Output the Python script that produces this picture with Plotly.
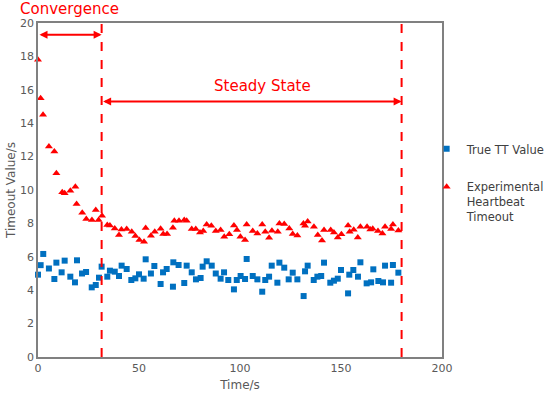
import plotly.graph_objects as go

# ---- data ----
exp_time = [0, 1.3, 2.5, 5.4, 8.1, 9.1, 12.0, 13.2, 16.0, 18.5, 19.1, 21.9, 23.9, 26.7, 28.6, 30.0,
            31.7, 34.3, 35.6, 38.0, 40.1, 41.3, 43.9, 46.4, 48.2, 50.2, 52.5, 53.3, 55.9, 57.8, 60.7,
            62.0, 63.9, 66.8, 67.5, 69.8, 72.4, 73.6, 76.1, 78.1, 80.2, 81.8, 83.5, 85.8, 88.0, 90.4,
            92.2, 94.7, 97.0, 98.5, 100.2, 102.5, 103.3, 106.3, 108.6, 111.0, 112.5, 114.4, 115.8,
            118.7, 119.5, 121.9, 124.4, 126.1, 128.4, 131.4, 132.2, 133.5, 136.6, 138.5, 140.6, 141.6,
            144.9, 146.5, 148.4, 150.2, 153.5, 154.3, 156.3, 158.3, 159.6, 162.9, 164.5, 165.7, 168.3,
            170.5, 171.8, 174.8, 175.7, 178.4]
exp_timeout = [17.8, 15.5, 14.5, 12.6, 12.3, 11.0, 9.86, 9.8, 9.96, 10.2, 9.16, 8.64, 8.26, 8.2, 8.8, 8.2,
               8.46, 7.9, 7.88, 7.7, 7.3, 7.64, 7.66, 7.5, 7.24, 7.0, 6.9, 7.72, 7.26, 7.5, 7.68,
               7.36, 7.36, 7.74, 8.16, 8.16, 8.2, 8.16, 7.66, 7.66, 7.46, 7.54, 7.94, 7.86, 7.54, 7.6,
               7.2, 7.35, 7.88, 7.6, 7.2, 7.0, 7.94, 7.54, 7.4, 7.94, 7.5, 7.14, 7.56,
               7.5, 8.0, 7.96, 7.7, 7.36, 7.28, 8.0, 7.86, 8.12, 7.8, 7.3, 6.97, 7.6,
               7.6, 7.46, 7.16, 7.35, 7.88, 7.5, 7.62, 7.16, 7.8, 7.8, 7.64, 7.68, 7.54,
               7.4, 7.8, 7.66, 7.94, 7.58]

true_time = [0, 1.3, 2.6, 5.4, 8.1, 9.1, 11.7, 13.2, 16.0, 18.3, 19.3, 21.8, 23.8, 26.6, 28.6, 30.2,
             31.5, 34.3, 35.6, 38.0, 40.1, 41.4, 43.9, 46.2, 48.2, 50.0, 52.3, 53.3, 55.9, 57.6, 60.7,
             61.9, 63.7, 66.8, 67.0, 69.6, 72.4, 73.6, 76.1, 78.2, 80.5, 81.5, 83.5, 86.0, 88.0, 90.4,
             92.1, 94.2, 97.0, 98.4, 100.3, 102.5, 103.3, 106.3, 108.6, 111.0, 112.5, 114.4, 115.7,
             118.5, 119.5, 121.9, 124.1, 126.1, 128.4, 131.5, 132.2, 133.5, 136.5, 138.3, 140.2, 141.6,
             144.7, 146.5, 148.4, 150.0, 153.5, 154.1, 156.1, 158.4, 159.6, 162.7, 164.9, 166.0, 168.5,
             170.8, 171.8, 174.8, 175.7, 178.4]
true_tt = [4.93, 5.5, 6.17, 5.3, 4.67, 5.65, 5.07, 5.77, 4.81, 4.47, 5.79, 5.0, 5.09, 4.17, 4.31, 4.75,
           5.41, 4.81, 5.17, 5.11, 4.85, 5.47, 5.27, 4.61, 4.71, 4.95, 4.69, 5.85, 5.0, 5.45, 4.37,
           5.07, 5.27, 4.21, 5.67, 5.51, 4.43, 5.47, 5.07, 4.65, 4.73, 5.41, 5.73, 5.47, 5.0, 4.69,
           5.07, 4.61, 4.05, 4.61, 4.85, 4.67, 5.87, 4.85, 4.65, 3.91, 4.61, 4.81, 5.47,
           4.45, 5.65, 5.35, 4.65, 5.05, 4.65, 3.65, 5.13, 5.47, 4.61, 4.81, 4.85, 5.65,
           4.45, 4.57, 4.69, 5.21, 3.81, 4.93, 5.21, 4.81, 5.67, 4.41, 4.47, 5.25, 4.55,
           4.47, 5.47, 4.45, 5.51, 5.05]

x_ticks = [0, 50, 100, 150, 200]
y_ticks = list(range(0, 21, 2))

conv_end = 31.5
steady_end = 180
conv_arrow_y = 19.3
steady_arrow_y = 15.3

FONT = "Verdana, DejaVu Sans, sans-serif"
RED = "#FF0000"
BLUE = "#0070C0"
GRAY = "#595959"

fig = go.Figure()
fig.add_trace(go.Scatter(x=true_time, y=true_tt, mode="markers", name="True TT Value",
                         legendgroup="a",
                         marker=dict(symbol="square", size=6, color=BLUE), cliponaxis=False))
fig.add_trace(go.Scatter(x=exp_time, y=exp_timeout, mode="markers",
                         name="Experimental<br>Heartbeat<br>Timeout", legendgroup="b",
                         marker=dict(symbol="triangle-up", size=7, color=RED), cliponaxis=False))

for xv in (conv_end, steady_end):
    fig.add_shape(type="line", x0=xv, x1=xv, y0=0, y1=20, xref="x", yref="y",
                  line=dict(color=RED, width=2, dash="dash"))

def double_arrow(x0, x1, y):
    fig.add_annotation(x=x1, y=y, ax=x0, ay=y, xref="x", yref="y", axref="x", ayref="y",
                       text="", showarrow=True, arrowhead=2, startarrowhead=2,
                       arrowside="end+start", arrowsize=0.8, startarrowsize=0.8,
                       arrowwidth=2, arrowcolor=RED)

double_arrow(0, conv_end, conv_arrow_y)
double_arrow(conv_end, steady_end, steady_arrow_y)

fig.add_annotation(x=conv_end / 2, y=1, xref="x", yref="paper", yanchor="bottom", yshift=3,
                   text="Convergence", showarrow=False,
                   font=dict(family=FONT, size=15, color=RED))
fig.add_annotation(x=111, y=16.2, xref="x", yref="y", text="Steady State",
                   showarrow=False, font=dict(family=FONT, size=15, color=RED))

axis_common = dict(showgrid=False, zeroline=False, showline=True, mirror=True,
                   linecolor="#808080", linewidth=1.5, ticks="", automargin=False,
                   tickfont=dict(family=FONT, size=11, color=GRAY))

fig.update_xaxes(range=[0, 200], tickvals=x_ticks, title=dict(text="Time/s", standoff=7,
                 font=dict(family=FONT, size=12, color=GRAY)), **axis_common)
fig.update_yaxes(range=[0, 20], tickvals=y_ticks, title=dict(text="Timeout Value/s", standoff=2,
                 font=dict(family=FONT, size=12, color=GRAY)), **axis_common)

fig.update_layout(
    width=550, height=394,
    margin=dict(l=38, r=108, t=23, b=37, autoexpand=False),
    plot_bgcolor="white", paper_bgcolor="white",
    font=dict(family=FONT, color=GRAY),
    legend=dict(x=0.962, y=0.665, xanchor="left", yanchor="top", valign="top",
                tracegroupgap=19, itemwidth=30, bgcolor="rgba(0,0,0,0)",
                font=dict(family=FONT, size=11.5, color="#404040")),
)

fig.write_html("out.html", post_script="document.body.style.margin='0';",
               config={"displayModeBar": False})
